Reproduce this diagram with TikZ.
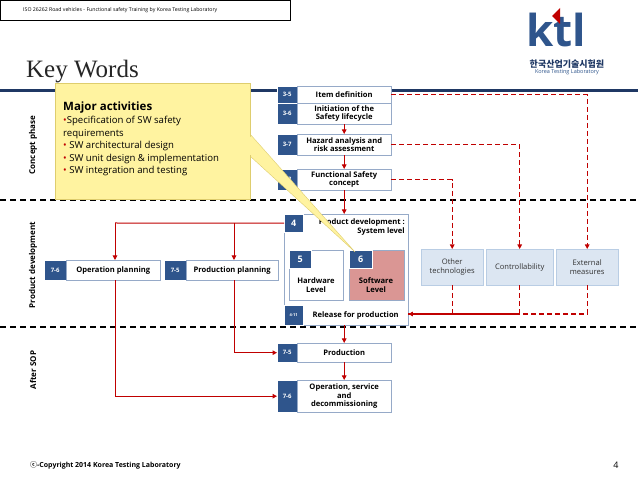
\documentclass[tikz,border=0pt]{standalone}
\usepackage{fontspec}
\setmainfont{Open Sans}
\newfontfamily\kr{Noto Sans CJK KR}
\newfontfamily\serifk{Liberation Serif}
\usetikzlibrary{arrows.meta}
\definecolor{navy}{RGB}{31,56,100}
\definecolor{nb}{RGB}{47,85,140}
\definecolor{dred}{RGB}{192,0,0}
\definecolor{pinkf}{RGB}{218,150,148}
\definecolor{lbf}{RGB}{220,230,242}
\definecolor{lbd}{RGB}{185,205,228}
\definecolor{yel}{RGB}{255,243,160}
\definecolor{yeld}{RGB}{222,205,110}
\definecolor{bd}{RGB}{150,170,200}
\tikzset{
 num/.style={draw=white,fill=nb,text=white,font=\bfseries\fontsize{6}{7}\selectfont,anchor=north west,inner sep=0pt},
 txt/.style={draw=bd,fill=white,font=\bfseries\fontsize{7.6}{8.6}\selectfont,align=center,anchor=north west,inner sep=0pt},
 lb/.style={draw=lbd,fill=lbf,font=\fontsize{7.6}{8.8}\selectfont,align=center,anchor=north west,inner sep=0pt,text=black!80},
 sol/.style={draw=dred,line width=1pt,-{Triangle[length=4.5pt,width=4.5pt]}},
 sl/.style={draw=dred,line width=1pt},
 dsh/.style={draw=dred,line width=1.1pt,dash pattern=on 5pt off 3pt},
 dshar/.style={dsh,-{Triangle[length=4.5pt,width=4.5pt]}},
 phase/.style={rotate=90,font=\bfseries\fontsize{8}{9}\selectfont}
}
\begin{document}
\begin{tikzpicture}[x=1pt,y=-1pt]
\useasboundingbox[fill=white] (0,0) rectangle (638,478);
% header
\node[draw,line width=0.8pt,minimum width=290pt,minimum height=20pt,anchor=north west,inner sep=0pt] (hdr) at (0,0) {};
\node[anchor=west,font=\fontsize{5.2}{6}\selectfont,inner sep=0pt] (hdrt) at (23,10) {ISO 26262 Road vehicles - Functional safety Training by Korea Testing Laboratory};
% logo
\node[font=\bfseries\fontsize{44}{44}\selectfont,text=nb,inner sep=0pt] (logo) at (556,30) {ktl};
\fill[dred] (552,16) -- (560,8) -- (560,24) -- cycle;
\node[font=\kr\bfseries\fontsize{9}{10}\selectfont,text=navy,inner sep=0pt] (krt) at (567,64) {한국산업기술시험원};
\node[font=\fontsize{5.5}{6}\selectfont,text=nb,inner sep=0pt] (kte) at (567,72) {Korea Testing Laboratory};
% title
\node[anchor=west,font=\serifk\fontsize{25}{27}\selectfont,text=black!85,inner sep=0pt] (title) at (26,72) {Key Words};
% lines
\draw[navy,line width=3pt] (0,91) -- (638,91);
\draw[black,line width=1.3pt,dash pattern=on 6pt off 4pt] (0,200) -- (638,200);
\draw[black,line width=1.3pt,dash pattern=on 6pt off 4pt] (0,327) -- (638,327);
% phase labels
\node[phase] (p1) at (33,145) {Concept phase};
\node[phase] (p2) at (33,265) {Product development};
\node[phase] (p3) at (33,370) {After SOP};
% concept boxes
\node[num,minimum width=20pt,minimum height=17pt] (n35) at (277,86) {3-5};
\node[txt,minimum width=94pt,minimum height=17pt] (t35) at (297,86) {Item definition};
\node[num,minimum width=20pt,minimum height=21pt] (n36) at (277,103) {3-6};
\node[txt,minimum width=94pt,minimum height=21pt] (t36) at (297,103) {Initiation of the\\Safety lifecycle};
\node[num,minimum width=20pt,minimum height=21pt] (n37) at (277,134) {3-7};
\node[txt,minimum width=94pt,minimum height=21pt] (t37) at (297,134) {Hazard analysis and\\risk assessment};
\node[num,minimum width=20pt,minimum height=21pt] (n38) at (277,169) {3-8};
\node[txt,minimum width=94pt,minimum height=21pt] (t38) at (297,169) {Functional Safety\\concept};
% system level
\node[draw=bd,fill=white,minimum width=124pt,minimum height=111pt,anchor=north west,inner sep=0pt] (b4) at (284,214) {};
\node[num,minimum width=19pt,minimum height=18pt,font=\bfseries\fontsize{9}{10}\selectfont] (n4) at (284,214) {4};
\node[anchor=north east,align=right,font=\bfseries\fontsize{7.6}{9}\selectfont,inner sep=0pt] (t4) at (405,219) {Product development :\\System level};
\node[draw=bd,fill=white,minimum width=54pt,minimum height=50pt,anchor=north west,inner sep=0pt] (b5) at (289,250) {};
\node[num,minimum width=22pt,minimum height=18pt,font=\bfseries\fontsize{9}{10}\selectfont] (n5) at (289,250) {5};
\node[font=\bfseries\fontsize{7.6}{9}\selectfont,align=center,inner sep=0pt] (t5) at (316,285) {Hardware\\Level};
\node[draw=bd,fill=pinkf,minimum width=55pt,minimum height=50pt,anchor=north west,inner sep=0pt] (b6) at (349,250) {};
\node[num,minimum width=23pt,minimum height=18pt,font=\bfseries\fontsize{9}{10}\selectfont] (n6) at (349,250) {6};
\node[font=\bfseries\fontsize{7.6}{9}\selectfont,align=center,inner sep=0pt] (t6) at (376,285) {Software\\Level};
\node[num,minimum width=19pt,minimum height=20pt,font=\bfseries\fontsize{4}{4.5}\selectfont] (n411) at (284,305) {4-11};
\node[txt,draw=none,fill=none,minimum width=105pt,minimum height=20pt] (t411) at (303,305) {Release for production};
% light blue boxes
\node[lb,minimum width=62pt,minimum height=36pt] (ot) at (421,249) {Other\\technologies};
\node[lb,minimum width=67pt,minimum height=36pt] (co) at (486,249) {Controllability};
\node[lb,minimum width=62pt,minimum height=36pt] (em) at (556,249) {External\\measures};
% planning boxes
\node[num,minimum width=22pt,minimum height=20pt] (n76a) at (44,260) {7-6};
\node[txt,minimum width=94pt,minimum height=20pt] (t76a) at (66,260) {Operation planning};
\node[num,minimum width=22pt,minimum height=20pt] (n75a) at (164,260) {7-5};
\node[txt,minimum width=92pt,minimum height=20pt] (t75a) at (186,260) {Production planning};
% after sop
\node[num,minimum width=20pt,minimum height=19pt] (n75) at (277,343) {7-5};
\node[txt,minimum width=94pt,minimum height=19pt] (t75) at (297,343) {Production};
\node[num,minimum width=20pt,minimum height=32pt] (n76) at (277,380) {7-6};
\node[txt,minimum width=94pt,minimum height=32pt] (t76) at (297,380) {Operation, service\\and\\decommissioning};
% solid arrows
\draw[sol] (t36.south) -- (t37.north);
\draw[sol] (t37.south) -- (t38.north);
\draw[sol] (t38.south) -- (t38.south |- b4.north);
\coordinate (c1) at (115,223);
\coordinate (c2) at (234,223);
\draw[sl] (n4.west) -- (c1);
\draw[sol] (c1) -- (c1 |- t76a.north);
\draw[sol] (c2) -- (c2 |- t75a.north);
\draw[sol] (c2 |- t75a.south) |- (n75.west);
\draw[sol] (c1 |- t76a.south) |- (n76.west);
\draw[sol] (t38.south |- b4.south) -- (t38.south |- t75.north);
\draw[sol] (t75.south) -- (t76.north);
% dashed
\draw[dshar] (t35.east) -| (em.north);
\draw[dshar] (t37.east) -| (co.north);
\draw[dshar] (t38.east) -| (ot.north);
\coordinate (r) at (408,314);
\draw[dsh] (ot.south) |- (r);
\draw[dsh] (co.south) |- (r);
\draw[dshar] (em.south) |- (b4.east |- r);
% callout
\fill[yel,draw=yeld] (250,134) -- (355,252) -- (250,156) -- cycle;
\fill[yel,draw=yeld] (55,83) rectangle (250,199);
\fill[yel] (248.5,135) -- (248.5,155) -- (251.5,155) -- (251.5,138) -- cycle;
\node[anchor=north west,align=left,inner sep=0pt,font=\fontsize{9.6}{12.6}\selectfont] (call) at (63,102)
 {{\bfseries\fontsize{11.5}{13}\selectfont Major activities}\\
 {\color{dred}\textbullet}Specification of SW safety\\
 requirements\\
 {\color{dred}\textbullet} SW architectural design\\
 {\color{dred}\textbullet} SW unit design \& implementation\\
 {\color{dred}\textbullet} SW integration and testing};
% footer
\node[anchor=west,inner sep=0pt,font=\bfseries\fontsize{7}{8}\selectfont] (ft) at (30,465) {{\kr ⓒ}-Copyright 2014 Korea Testing Laboratory};
\node[inner sep=0pt,font=\fontsize{9}{10}\selectfont] (pg) at (616,465) {4};
\end{tikzpicture}
\end{document}
